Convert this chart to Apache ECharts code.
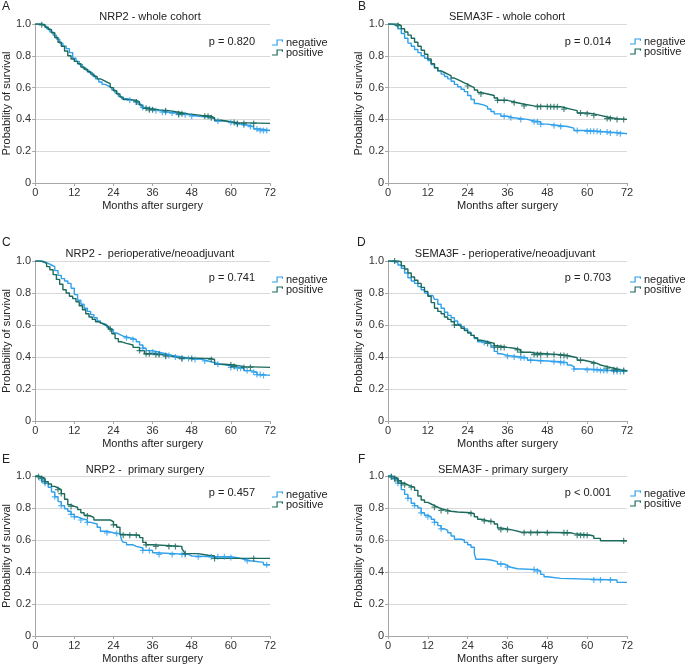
<!DOCTYPE html>
<html>
<head>
<meta charset="utf-8">
<title>NRP2 / SEMA3F survival</title>
<script src="https://cdn.jsdelivr.net/npm/echarts@6/dist/echarts.min.js"></script>
<style>
html, body { margin: 0; padding: 0; background: #fff; }
#myChart { width: 685px; height: 665px; }
</style>
</head>
<body>
<div id="myChart"></div>
<script>
// panel texts
var panelLetters = ['A', 'B', 'C', 'D', 'E', 'F'];
var panelTitles = ['NRP2 - whole cohort', 'SEMA3F - whole cohort',
	'NRP2 -  perioperative/neoadjuvant', 'SEMA3F - perioperative/neoadjuvant',
	'NRP2 -  primary surgery', 'SEMA3F - primary surgery'];
var pValues = ['p = 0.820', 'p = 0.014', 'p = 0.741', 'p = 0.703', 'p = 0.457', 'p < 0.001'];
var groupNames = ['negative', 'positive'];
var yTicks = [0, 0.2, 0.4, 0.6, 0.8, 1.0];

// Kaplan-Meier steps: [month, survival from that month on]
var nrp2WholeNeg = [[0,1],[1.5,0.995],[2.5,0.985],[3.5,0.97],[4.5,0.95],[5.5,0.93],[6.5,0.905],[7.5,0.88],[8.5,0.86],[9.5,0.845],[10.5,0.82],[11.5,0.785],[12.5,0.765],[13.5,0.745],[14.5,0.725],[15.5,0.71],[16.5,0.695],[17.5,0.675],[18.5,0.655],[19.5,0.635],[20.5,0.62],[21.5,0.61],[22.5,0.6],[23.5,0.585],[24.5,0.565],[25.5,0.545],[26.5,0.53],[28,0.52],[30,0.51],[31.5,0.495],[32.5,0.475],[34,0.465],[36,0.455],[38,0.445],[41,0.44],[44,0.43],[47,0.42],[50,0.415],[53,0.405],[55,0.39],[58,0.38],[61,0.37],[63,0.365],[65,0.355],[67,0.34],[69,0.33],[72,0.33]];
var nrp2WholePos = [[0,1],[2,0.995],[3,0.98],[4,0.965],[5,0.945],[6,0.915],[7,0.885],[8,0.86],[9,0.83],[10,0.8],[11,0.78],[12,0.765],[13,0.75],[14,0.73],[15,0.715],[16,0.7],[17,0.685],[18,0.67],[19,0.655],[20,0.645],[21,0.635],[22,0.625],[23,0.6],[24,0.58],[25,0.56],[26,0.54],[27,0.525],[29,0.52],[31,0.51],[32,0.49],[33,0.47],[35,0.46],[38,0.455],[41,0.445],[44,0.435],[47,0.425],[51,0.42],[54,0.41],[55,0.395],[57,0.385],[60,0.38],[62,0.375],[72,0.375]];
var sema3fWholeNeg = [[0,1],[1,0.995],[2,0.985],[3,0.97],[4,0.94],[5,0.91],[6,0.88],[7,0.86],[8,0.84],[9,0.82],[10,0.8],[11,0.785],[12,0.77],[13,0.745],[14,0.725],[15,0.705],[16,0.685],[17,0.67],[18,0.655],[19,0.64],[20,0.62],[21,0.605],[22,0.59],[23,0.575],[24,0.55],[25,0.525],[26,0.5],[27,0.49],[29,0.48],[30,0.465],[31,0.45],[32,0.435],[34,0.42],[36,0.41],[38,0.405],[40,0.4],[42,0.39],[44,0.385],[46,0.37],[48,0.36],[52,0.355],[54,0.345],[56,0.33],[60,0.325],[64,0.32],[67,0.315],[70,0.31],[72,0.31]];
var sema3fWholePos = [[0,1],[3,0.99],[4,0.97],[5,0.95],[6,0.93],[7,0.91],[8,0.885],[9,0.86],[10,0.835],[11,0.81],[12,0.78],[13,0.75],[14,0.725],[15,0.705],[16,0.695],[17,0.685],[18,0.675],[19,0.66],[20,0.65],[21,0.64],[22,0.63],[23,0.62],[24,0.61],[25,0.6],[26,0.585],[27,0.57],[28,0.56],[30,0.55],[32,0.535],[33,0.52],[36,0.515],[37,0.505],[39,0.495],[41,0.485],[44,0.48],[52,0.475],[53,0.465],[55,0.455],[57,0.44],[60,0.435],[62,0.425],[64,0.415],[66,0.405],[69,0.4],[72,0.4]];
var nrp2PeriNeg = [[0,1],[2,0.995],[3,0.985],[4,0.975],[5,0.965],[6,0.94],[7,0.91],[8,0.89],[9,0.875],[10,0.86],[11,0.83],[12,0.79],[13,0.755],[14,0.73],[15,0.705],[16,0.685],[17,0.665],[18,0.645],[19,0.625],[20,0.61],[21,0.6],[22,0.585],[23,0.57],[24,0.55],[25,0.54],[26,0.53],[27,0.52],[29,0.51],[31,0.495],[32,0.475],[33,0.455],[34,0.44],[36,0.43],[38,0.42],[40,0.41],[42,0.4],[45,0.39],[48,0.385],[51,0.375],[53,0.365],[55,0.355],[57,0.345],[60,0.335],[62,0.33],[64,0.315],[66,0.305],[68,0.29],[70,0.285],[72,0.285]];
var nrp2PeriPos = [[0,1],[1.5,0.995],[2.5,0.985],[3.5,0.965],[4.5,0.945],[5.5,0.915],[6.5,0.885],[7.5,0.855],[8.5,0.82],[9.5,0.8],[10.5,0.78],[11.5,0.765],[12.5,0.745],[13.5,0.72],[14.5,0.695],[15.5,0.67],[16.5,0.65],[17.5,0.635],[18.5,0.62],[19.5,0.61],[20.5,0.6],[21.5,0.59],[22.5,0.575],[23.5,0.545],[24.5,0.515],[25.5,0.495],[26.5,0.485],[28,0.475],[30,0.46],[32,0.44],[33.5,0.42],[37,0.415],[39,0.405],[42,0.395],[44,0.39],[54,0.385],[55,0.355],[58,0.35],[61,0.34],[64,0.335],[72,0.335]];
var sema3fPeriNeg = [[0,1],[1,0.995],[2,0.99],[3,0.975],[4,0.955],[5,0.925],[6,0.895],[7,0.875],[8,0.86],[9,0.84],[10,0.82],[11,0.8],[12,0.785],[13.5,0.78],[14,0.76],[15,0.73],[16,0.705],[17,0.68],[18,0.66],[19,0.645],[20,0.625],[21,0.605],[22,0.59],[23,0.575],[24,0.555],[25,0.535],[26,0.515],[27,0.495],[28,0.49],[30,0.48],[31,0.46],[32,0.435],[33,0.42],[34,0.41],[36,0.405],[38,0.4],[40,0.395],[42,0.38],[44,0.375],[48,0.37],[52,0.365],[54,0.35],[55,0.34],[56,0.325],[60,0.32],[64,0.315],[68,0.31],[72,0.31]];
var sema3fPeriPos = [[0,1],[3,0.995],[4,0.97],[5,0.95],[6,0.925],[7,0.9],[8,0.88],[9,0.86],[10,0.835],[11,0.81],[12,0.78],[13,0.74],[14,0.705],[15,0.685],[16,0.67],[17,0.65],[18,0.635],[19,0.62],[20,0.6],[21,0.595],[22,0.58],[23,0.565],[24,0.55],[25,0.535],[26,0.52],[27,0.505],[28,0.495],[30,0.485],[32,0.47],[33,0.46],[36,0.455],[38,0.445],[40,0.43],[43,0.425],[44,0.415],[52,0.41],[54,0.405],[55,0.395],[57,0.38],[59,0.37],[61,0.36],[63,0.35],[64,0.34],[66,0.33],[68,0.32],[70,0.315],[72,0.31]];
var nrp2PrimNeg = [[0,1],[1,0.99],[2,0.975],[3,0.955],[4,0.93],[5,0.9],[6,0.87],[7,0.84],[8,0.815],[9,0.795],[10,0.78],[11,0.76],[12,0.745],[13,0.735],[14,0.725],[16,0.71],[17,0.7],[19,0.68],[20,0.655],[22,0.645],[24,0.64],[26,0.635],[26.5,0.6],[27,0.585],[28,0.57],[30,0.56],[31,0.55],[33,0.535],[36,0.52],[37,0.51],[47,0.5],[48,0.495],[55,0.495],[60,0.49],[62,0.48],[64,0.47],[66,0.46],[70,0.445],[72,0.445]];
var nrp2PrimPos = [[0,1],[1,0.995],[2,0.985],[3,0.965],[4,0.95],[5,0.935],[6,0.925],[7,0.915],[8,0.89],[9,0.855],[10,0.82],[11,0.81],[12,0.805],[13,0.79],[14,0.77],[15,0.755],[16,0.75],[17,0.74],[18,0.725],[23,0.715],[24,0.695],[25,0.68],[26,0.635],[27,0.63],[32,0.615],[33,0.585],[34,0.57],[36,0.56],[45,0.545],[45.5,0.53],[46,0.515],[50,0.505],[53,0.5],[55,0.485],[72,0.485]];
var sema3fPrimNeg = [[0,1],[1,0.995],[2,0.98],[3,0.955],[4,0.915],[5,0.885],[6,0.86],[7,0.83],[8,0.815],[9,0.8],[10,0.77],[11,0.755],[12,0.745],[13,0.73],[14,0.71],[15,0.69],[16,0.67],[17,0.66],[18,0.645],[19,0.625],[20,0.605],[22,0.6],[23,0.585],[24,0.57],[25,0.555],[26,0.515],[26.5,0.48],[29,0.475],[31,0.465],[33,0.45],[35,0.44],[36,0.43],[37,0.42],[39,0.415],[45,0.405],[46,0.385],[47,0.37],[48,0.36],[52,0.35],[69,0.335],[72,0.335]];
var sema3fPrimPos = [[0,1],[1,0.995],[2,0.985],[3,0.97],[4,0.955],[5,0.945],[6,0.935],[7,0.93],[8,0.91],[9,0.875],[10,0.85],[11,0.835],[12,0.825],[13,0.815],[14,0.805],[15,0.795],[16,0.785],[18,0.78],[19,0.775],[21,0.77],[25,0.765],[26,0.745],[27,0.73],[28,0.72],[30,0.715],[32,0.7],[33,0.675],[34,0.665],[37,0.66],[38,0.65],[40,0.645],[55,0.64],[56,0.63],[61,0.625],[62,0.61],[64,0.595],[72,0.595]];

// censored patients (months)
var nrp2WholeNegCens = [29,31,33,35,37,39,40,42,44,46,48,56,60,62,64,66,68,69,70,71];
var nrp2WholePosCens = [2,31,34,35,36,40,44,45,52,53,54,61,62,64,67];
var sema3fWholeNegCens = [35,37,40,44,45,46,50,52,57,60,61,62,63,64,66,67,69,70];
var sema3fWholePosCens = [3,24,28,33,35,38,41,45,46,48,49,50,51,53,58,60,62,66,67,69,71];
var nrp2PeriNegCens = [28,30,33,36,38,40,41,43,45,47,49,52,56,60,62,63,65,67,68,69,70];
var nrp2PeriPosCens = [23,32,34,35,37,38,40,45,48,54,60,61,64,66];
var sema3fPeriNegCens = [29,36,38,40,41,43,46,50,52,53,56,60,62,63,64,65,66,68,69,70,71];
var sema3fPeriPosCens = [2,20,30,32,33,34,35,39,40,44,45,46,48,50,52,53,54,58,62,66,68,69,71];
var nrp2PrimNegCens = [2,3,6,8,11,12,14,16,22,25,33,35,38,42,45,46,50,54,56,58,60,65,71];
var nrp2PrimPosCens = [1,2,3,7,8,11,16,24,27,29,31,34,37,41,43,46,55,67];
var sema3fPrimNegCens = [1,2,3,6,8,10,12,14,16,34,36,44,45,62,64,67];
var sema3fPrimPosCens = [1,2,3,4,5,7,14,16,18,25,29,31,34,36,41,43,45,48,53,54,57,58,59,60,71];

var Survival = {
	chart: null,
	colors: ['#2fa0ec', '#1b6a5c'],
	font: 'Liberation Sans, Arial, sans-serif',
	// plot boxes: left, top, width, height
	boxes: [[32,24,238,159],[388,24,239,159],[32,261,238,160],[388,261,239,160],[32,476,238,160],[388,476,239,160]],
	// letter x,y / title centre x,y / p right x,y / legend left,top
	letterPos: [[2,7],[358,7],[2,243],[357,243],[2,460],[358,460]],
	titlePos: [[150,17],[507,17],[150,254],[505,254],[145,470],[503,470]],
	pPos: [[255,42],[611,42],[255,278],[611,278],[255,493],[611,493]],
	legendPos: [[272,37],[630,36],[272,274],[630,274],[272,489],[630,488]],
	stepIcon: 'path://M0,6 L4.5,6 L4.5,1 L11,1 L11,3.4 L9.8,3.4 L9.8,2.2 L5.7,2.2 L5.7,7.2 L0,7.2 Z',
	plusIcon: 'path://M2.4,0 L3.6,0 L3.6,2.4 L6,2.4 L6,3.6 L3.6,3.6 L3.6,6 L2.4,6 L2.4,3.6 L0,3.6 L0,2.4 L2.4,2.4 Z',

	// survival value of a step curve at month t
	stepValue: function(curve, t) {
		var v = curve[0][1];
		for (var i = 0; i < curve.length; i++) {
			if (curve[i][0] <= t) v = curve[i][1];
		}
		return v;
	},
	text: function(x, y, str, align, size) {
		return {
			type: 'text', x: x, y: y, silent: true,
			style: {
				text: str, font: size + 'px ' + this.font, fill: '#222',
				textAlign: align, align: align,
				textVerticalAlign: 'middle', verticalAlign: 'middle'
			}
		};
	},
	initChart: function() {
		var self = this;
		var curves = [
			[nrp2WholeNeg, nrp2WholePos], [sema3fWholeNeg, sema3fWholePos],
			[nrp2PeriNeg, nrp2PeriPos], [sema3fPeriNeg, sema3fPeriPos],
			[nrp2PrimNeg, nrp2PrimPos], [sema3fPrimNeg, sema3fPrimPos]
		];
		var censors = [
			[nrp2WholeNegCens, nrp2WholePosCens], [sema3fWholeNegCens, sema3fWholePosCens],
			[nrp2PeriNegCens, nrp2PeriPosCens], [sema3fPeriNegCens, sema3fPeriPosCens],
			[nrp2PrimNegCens, nrp2PrimPosCens], [sema3fPrimNegCens, sema3fPrimPosCens]
		];
		var grid = [], xAxis = [], yAxis = [], series = [], legend = [], graphic = [];
		var axisColor = '#a6a6a6';

		for (var p = 0; p < 6; p++) {
			var b = self.boxes[p];
			grid.push({ left: b[0], top: b[1], width: b[2], height: b[3] });
			xAxis.push({
				type: 'value', gridIndex: p, min: 0, max: 72, interval: 12,
				name: 'Months after surgery', nameLocation: 'middle', nameGap: 17,
				nameTextStyle: { fontFamily: self.font, fontSize: 11, color: '#222' },
				axisLine: { show: true, onZero: false, lineStyle: { color: axisColor } },
				axisTick: { show: true, length: 3, lineStyle: { color: axisColor } },
				axisLabel: { fontFamily: self.font, fontSize: 11, color: '#333', margin: 4 },
				splitLine: { show: false }
			});
			yAxis.push({
				type: 'value', gridIndex: p, min: yTicks[0], max: yTicks[yTicks.length - 1], interval: 0.2,
				name: 'Probability of survival', nameLocation: 'middle', nameGap: 22,
				nameTextStyle: { fontFamily: self.font, fontSize: 11, color: '#222' },
				axisLine: { show: true, lineStyle: { color: axisColor } },
				axisTick: { show: true, length: 3, lineStyle: { color: axisColor } },
				axisLabel: {
					fontFamily: self.font, fontSize: 11, color: '#333', margin: 4,
					formatter: function(v) { return v === 0 ? '0' : v.toFixed(1); }
				},
				splitLine: { show: true, lineStyle: { color: '#d9d9d9', width: 1 } }
			});
			for (var g = 0; g < 2; g++) {
				var curve = curves[p][g];
				series.push({
					name: groupNames[g], type: 'line', step: 'end',
					xAxisIndex: p, yAxisIndex: p,
					data: curve, showSymbol: false, symbol: 'none',
					lineStyle: { color: self.colors[g], width: 1.4 },
					itemStyle: { color: self.colors[g] },
					z: 2 + g
				});
				series.push({
					name: groupNames[g], type: 'scatter',
					xAxisIndex: p, yAxisIndex: p,
					data: censors[p][g].map(function(t) { return [t, self.stepValue(curve, t)]; }),
					symbol: self.plusIcon, symbolSize: 6,
					itemStyle: { color: self.colors[g] },
					silent: true, z: 4 + g
				});
			}
			legend.push({
				orient: 'vertical', left: self.legendPos[p][0], top: self.legendPos[p][1],
				itemWidth: 11, itemHeight: 7, itemGap: -1, padding: 0,
				selectedMode: false,
				textStyle: { fontFamily: self.font, fontSize: 11, color: '#222', padding: [0, 0, 0, -2] },
				data: groupNames.map(function(n) { return { name: n, icon: self.stepIcon }; })
			});
			graphic.push(self.text(self.letterPos[p][0], self.letterPos[p][1], panelLetters[p], 'left', 12));
			graphic.push(self.text(self.titlePos[p][0], self.titlePos[p][1], panelTitles[p], 'center', 11));
			graphic.push(self.text(self.pPos[p][0], self.pPos[p][1], pValues[p], 'right', 11));
		}

		self.chart = echarts.init(document.getElementById('myChart'));
		self.chart.setOption({
			animation: false,
			backgroundColor: '#fff',
			grid: grid, xAxis: xAxis, yAxis: yAxis,
			legend: legend, series: series, graphic: graphic
		});
	}
};

Survival.initChart();
</script>
</body>
</html>
